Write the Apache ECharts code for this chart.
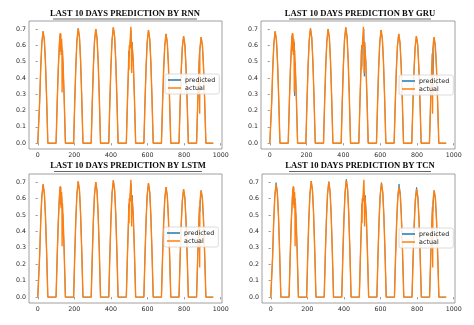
<!DOCTYPE html>
<html>
<head>
<meta charset="utf-8">
<script src="https://cdn.jsdelivr.net/npm/echarts@6/dist/echarts.min.js"></script>
<style>html,body{margin:0;padding:0;background:#fff}#c{width:474px;height:325px}</style>
</head>
<body>
<div id="c"></div>
<script>
// time steps (15-min samples) at which values were read
const steps = [0,
 4,10,16,22,29,36,42,48,55,
 100,106,112,118,121,123,125,126,128,130,132,133,135,138,144,151,
 196,202,208,214,221,228,234,240,247,
 292,298,304,310,317,324,330,336,343,
 388,394,400,406,413,420,426,432,439,
 484,490,496,498,499,500,503,506,509,511,513,514,516,522,528,535,
 580,586,592,598,605,612,618,624,631,
 676,682,688,694,701,708,714,720,727,
 772,778,784,790,797,804,810,816,823,
 868,874,880,884,885,886,893,900,906,912,919,
 959];

const actual = [0,
 0,.247,.46,.61,.686,.631,.494,.287,0,
 0,.245,.456,.605,.655,.675,.56,.67,.54,.64,.59,.31,.57,.49,.29,0,
 0,.253,.472,.627,.704,.648,.507,.294,0,
 0,.252,.469,.623,.70,.644,.504,.293,0,
 0,.256,.476,.632,.71,.653,.511,.297,0,
 0,.25,.47,.57,.45,.60,.58,.65,.714,.62,.43,.62,.63,.50,.29,0,
 0,.25,.465,.618,.694,.638,.50,.29,0,
 0,.241,.449,.596,.67,.616,.482,.281,0,
 0,.237,.44,.585,.657,.604,.473,.275,0,
 0,.234,.436,.55,.18,.58,.65,.598,.468,.272,0,
 0];

const predRNN = [0,
 0,.247,.46,.61,.685,.631,.494,.287,0,
 0,.245,.456,.605,.655,.668,.62,.62,.58,.60,.59,.57,.55,.49,.29,0,
 0,.253,.472,.627,.703,.648,.507,.294,0,
 0,.252,.469,.623,.70,.644,.504,.293,0,
 0,.256,.476,.632,.709,.653,.511,.297,0,
 0,.25,.47,.56,.53,.57,.59,.63,.69,.64,.55,.56,.62,.50,.29,0,
 0,.25,.465,.618,.693,.638,.50,.29,0,
 0,.241,.449,.596,.669,.616,.482,.281,0,
 0,.237,.44,.585,.656,.604,.473,.275,0,
 0,.234,.436,.55,.55,.57,.649,.598,.468,.272,0,
 0];

const predGRU = [0,
 0,.247,.46,.61,.685,.631,.494,.287,0,
 0,.245,.456,.605,.66,.672,.66,.57,.64,.55,.62,.58,.29,.49,.29,0,
 0,.253,.472,.627,.703,.648,.507,.294,0,
 0,.252,.469,.623,.70,.644,.504,.293,0,
 0,.256,.476,.632,.709,.653,.511,.297,0,
 0,.25,.47,.56,.60,.47,.59,.60,.68,.70,.60,.41,.62,.50,.29,0,
 0,.25,.465,.618,.694,.638,.50,.29,0,
 0,.241,.449,.596,.669,.616,.482,.281,0,
 0,.237,.44,.585,.656,.604,.473,.275,0,
 0,.234,.436,.55,.55,.30,.647,.598,.468,.272,0,
 0];

const predLSTM = [0,
 0,.247,.46,.61,.685,.631,.494,.287,0,
 0,.245,.456,.605,.655,.67,.61,.63,.58,.61,.59,.57,.52,.49,.29,0,
 0,.253,.472,.627,.703,.648,.507,.294,0,
 0,.252,.469,.623,.70,.644,.504,.293,0,
 0,.256,.476,.632,.709,.653,.511,.297,0,
 0,.25,.47,.56,.54,.57,.59,.63,.69,.66,.56,.54,.62,.50,.29,0,
 0,.25,.465,.618,.693,.638,.50,.29,0,
 0,.241,.449,.596,.669,.616,.482,.281,0,
 0,.237,.44,.585,.656,.604,.473,.275,0,
 0,.234,.436,.55,.55,.52,.648,.598,.468,.272,0,
 0];

const predTCN = [0,
 0,.25,.465,.618,.697,.64,.50,.29,0,
 0,.246,.458,.607,.66,.665,.64,.60,.62,.56,.60,.58,.52,.49,.29,0,
 0,.254,.473,.629,.706,.65,.508,.295,0,
 0,.253,.47,.625,.703,.646,.505,.294,0,
 0,.258,.481,.64,.718,.66,.516,.30,0,
 0,.25,.47,.56,.55,.57,.59,.62,.64,.64,.57,.52,.62,.50,.29,0,
 0,.251,.467,.62,.697,.64,.502,.291,0,
 0,.248,.461,.612,.688,.633,.495,.288,0,
 0,.241,.448,.595,.668,.614,.48,.279,0,
 0,.234,.436,.55,.55,.52,.648,.598,.468,.272,0,
 0];

const titles = ['LAST 10 DAYS PREDICTION BY RNN','LAST 10 DAYS PREDICTION BY GRU',
                'LAST 10 DAYS PREDICTION BY LSTM','LAST 10 DAYS PREDICTION BY TCN'];
const predictions = [predRNN, predGRU, predLSTM, predTCN];
const xTicks = [0,200,400,600,800,1000];
const yTicks = [0,0.1,0.2,0.3,0.4,0.5,0.6,0.7];
const seriesNames = ['predicted','actual'];

// layout (pixels)
const grids = [
  {left:29, top:21, width:193, height:128},
  {left:261, top:21, width:194, height:128},
  {left:29, top:174, width:193, height:129},
  {left:262, top:174, width:193, height:129}
];
const titlePos = [{x:125,y:9.5},{x:360,y:9.5},{x:128,y:161.5},{x:360,y:161.5}];
const underline = [{x1:53,x2:197,y:19},{x1:289,x2:431,y:19},{x1:54,x2:202,y:171.5},{x1:289,x2:431,y:171.5}];
const legendPos = [{left:165,top:74},{left:399,top:75},{left:164,top:227},{left:399,top:228}];

const pair = vals => steps.map((t,i)=>[t, vals[i]]);
const tickFont = {fontFamily:'DejaVu Sans', fontSize:6.3, color:'#2a2a2a'};

const option = {
  animation:false,
  backgroundColor:'#fff',
  title: titles.map((t,i)=>({text:t, left:titlePos[i].x, top:titlePos[i].y, textAlign:'center', padding:0,
     textStyle:{fontFamily:'Liberation Serif', fontWeight:'bold', fontSize:8.6, color:'#0a0a0a'}})),
  grid: grids.map(g=>Object.assign({show:true, borderColor:'#888', borderWidth:0.8, backgroundColor:'#fff'}, g)),
  legend: legendPos.map((p,i)=>({data:seriesNames, orient:'vertical', left:p.left, top:p.top, icon:'rect',
     itemWidth:13, itemHeight:1.5, itemGap:2, padding:[3,4,3,3],
     backgroundColor:'rgba(255,255,255,0.85)', borderColor:'#d3d3d3', borderWidth:0.8, borderRadius:2,
     textStyle:{fontFamily:'DejaVu Sans', fontSize:6.4, color:'#222', padding:[0,0,0,-1]}})),
  xAxis: grids.map((g,i)=>({type:'value', gridIndex:i, min:-48, max:1007,
     axisLine:{show:false}, splitLine:{show:false},
     axisTick:{show:true, length:2.2, customValues:xTicks, lineStyle:{color:'#555', width:0.6}},
     axisLabel:Object.assign({margin:3, customValues:xTicks, formatter:v=>String(v)}, tickFont)})),
  yAxis: grids.map((g,i)=>({type:'value', gridIndex:i, min:-0.0357, max:0.749,
     axisLine:{show:false}, splitLine:{show:false},
     axisTick:{show:true, length:2.2, customValues:yTicks, lineStyle:{color:'#555', width:0.6}},
     axisLabel:Object.assign({margin:3, customValues:yTicks, formatter:v=>v.toFixed(1)}, tickFont)})),
  series: [],
  graphic: underline.map(u=>({type:'line', shape:{x1:u.x1,y1:u.y,x2:u.x2,y2:u.y}, style:{stroke:'#222', lineWidth:0.7}, silent:true}))
};
predictions.forEach((pred,i)=>{
  option.series.push({name:'predicted', type:'line', xAxisIndex:i, yAxisIndex:i, data:pair(pred), z:2,
     showSymbol:false, symbol:'none', color:'#1f77b4', lineStyle:{width:0.8, color:'#1f77b4'}});
  option.series.push({name:'actual', type:'line', xAxisIndex:i, yAxisIndex:i, data:pair(actual), z:3,
     showSymbol:false, symbol:'none', color:'#ff7f0e', lineStyle:{width:1.4, color:'#ff7f0e'}});
});
const chart = echarts.init(document.getElementById('c'), null, {renderer:'canvas'});
chart.setOption(option);
</script>
</body>
</html>
